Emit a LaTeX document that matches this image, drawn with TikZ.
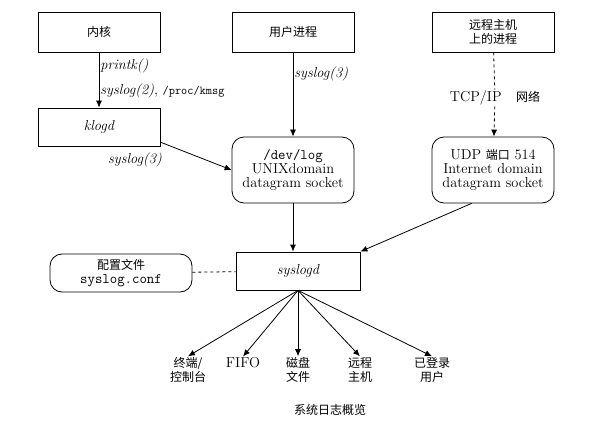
\documentclass[tikz,border=0pt]{standalone}
\usepackage{fontspec}
\newfontfamily\cjk{Noto Sans CJK SC}
\newcommand\zh[1]{{\large\cjk #1}}
\usetikzlibrary{arrows.meta}
\begin{document}
\begin{tikzpicture}[x=1pt,y=-1pt,
  box/.style={draw,thick,minimum width=122pt,minimum height=40pt,inner sep=1pt,align=center,font=\Large},
  rbox/.style={box,rounded corners=12pt},
  arr/.style={thick,-{Latex[length=7pt,width=6pt]}},
  lab/.style={font=\Large,inner sep=1pt}]
\useasboundingbox (0,0) rectangle (616,425);
%% top row
\node[box] (kern) at (99,32) {\zh{内核}};
\node[box] (user) at (293,32) {\zh{用户进程}};
\node[box] (remote) at (493,32) {\zh{远程主机}\\[-4pt]\zh{上的进程}};
\node[box,minimum height=38pt] (klogd) at (99,127) {\itshape klogd};
\node[rbox,minimum height=66pt] (dev) at (293,170) {\texttt{/dev/log}\\[-4pt]UNIXdomain\\[-4pt]datagram socket};
\node[rbox,minimum height=66pt] (udp) at (493,170) {UDP \zh{端口} 514\\[-4pt]Internet domain\\[-4pt]datagram socket};
\node[box,minimum width=124pt,minimum height=38pt] (sysd) at (298,271) {\itshape syslogd};
\node[rbox,minimum width=142pt,minimum height=38pt] (conf) at (121,273) {\zh{配置文件}\\[-4pt]\texttt{syslog.conf}};
\node[lab] (net) at (495,98) {TCP/IP\quad\zh{网络}};
%% connectors
\draw[arr] (kern) -- (klogd)
  node[lab,pos=0.25,right] {\itshape printk()}
  node[lab,pos=0.7,right] {\itshape syslog(2)\upshape, {\large\texttt{/proc/kmsg}}};
\draw[arr] (user) -- (dev) node[lab,pos=0.25,right] {\itshape syslog(3)};
\coordinate (k1) at (160,142);
\draw[arr] (k1) -- (dev.west);
\node[lab] (klab) at (135,160) {\itshape syslog(3)};
\draw[thick,dashed] (remote) -- (net);
\draw[arr,dashed] (net) -- (udp);
\draw[arr] (dev) -- (sysd.north -| dev);
\draw[arr] (udp.south west) ++(40,0) coordinate (u1) -- (sysd.north east);
\draw[thick,dashed] (conf) -- (sysd);
%% outputs
\node[lab,align=center] (o1) at (188,370) {\zh{终端/}\\[-4pt]\zh{控制台}};
\node[lab] (o2) at (243,363) {FIFO};
\node[lab,align=center] (o3) at (298,370) {\zh{磁盘}\\[-4pt]\zh{文件}};
\node[lab,align=center] (o4) at (360,370) {\zh{远程}\\[-4pt]\zh{主机}};
\node[lab,align=center] (o5) at (432,370) {\zh{已登录}\\[-4pt]\zh{用户}};
\foreach \o in {o1,o2,o3,o4,o5} \draw[arr] (sysd.south) -- (\o.north);
\node[font=\cjk\large] (cap) at (330,410) {系统日志概览};
\end{tikzpicture}
\end{document}
